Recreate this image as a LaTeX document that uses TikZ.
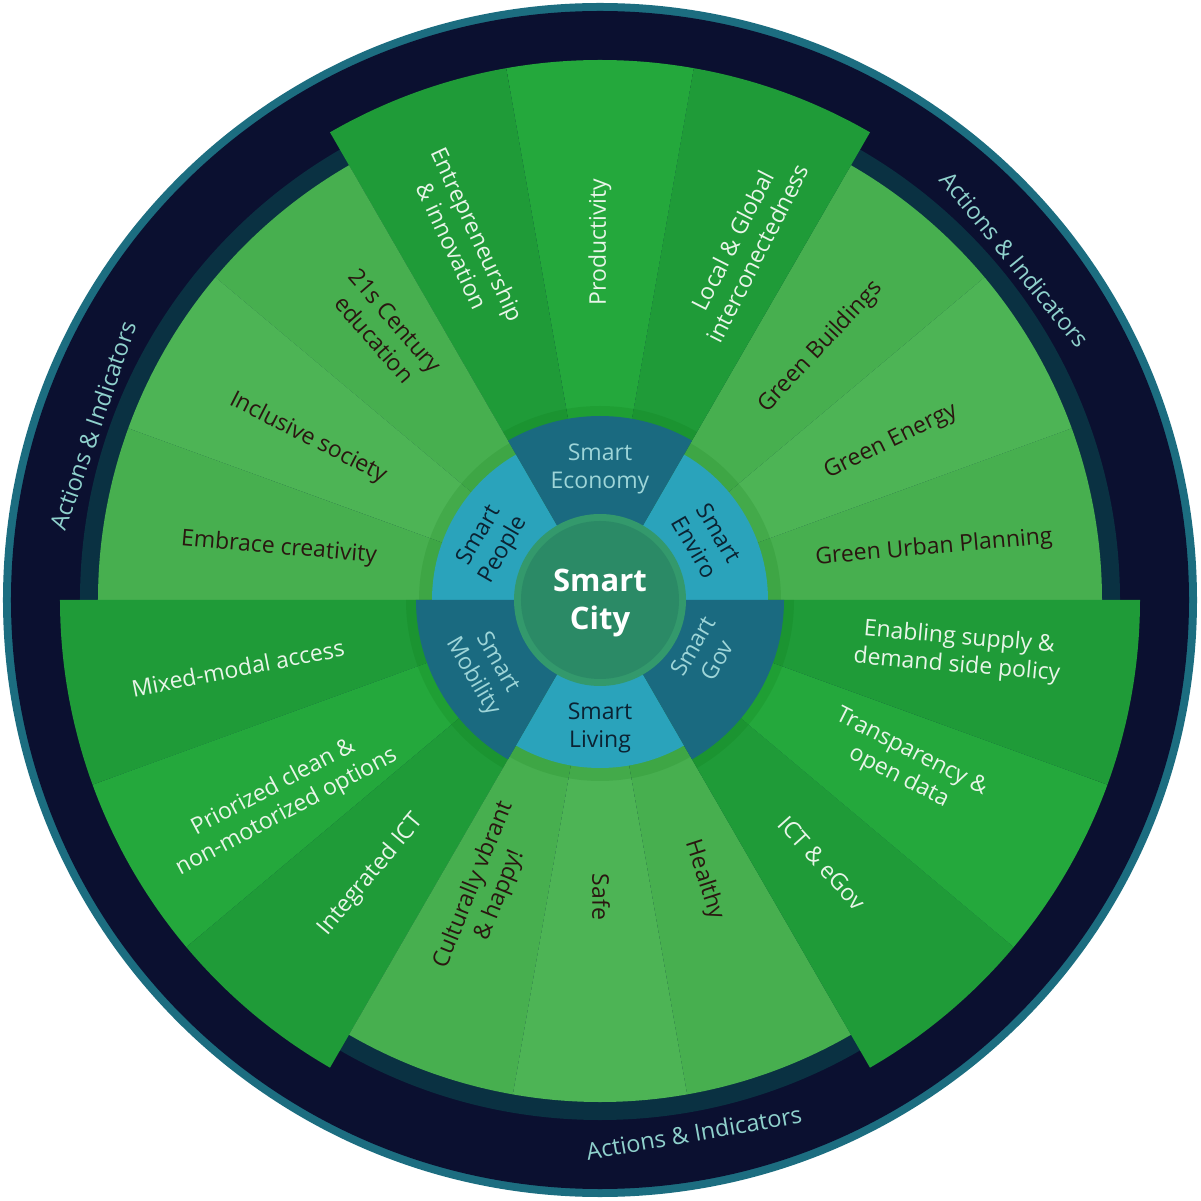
\documentclass[tikz,border=0pt]{standalone}
\usepackage{fontspec}
\setmainfont{Open Sans}
\definecolor{rim}{HTML}{1C6D80}
\definecolor{navy}{HTML}{0B1030}
\definecolor{band}{HTML}{0A3142}
\definecolor{gdark}{HTML}{1F9B38}
\definecolor{gmid}{HTML}{24A83C}
\definecolor{glite}{HTML}{47AF4F}
\definecolor{glmid}{HTML}{4DB455}
\definecolor{tdark}{HTML}{1A6A80}
\definecolor{tlite}{HTML}{2AA3BB}
\definecolor{cring}{HTML}{33996C}
\definecolor{cfill}{HTML}{2B8A66}
\definecolor{txtdark}{HTML}{2A1610}
\definecolor{txtlite}{HTML}{E8F5E8}
\definecolor{txtteal}{HTML}{9ED5D8}
\definecolor{txtnavy}{HTML}{0B2232}
\definecolor{txtact}{HTML}{8FD1CC}
\newcommand\wdg[4]{\fill[#4] (0,0) -- (#1:#3pt) arc[start angle=#1, end angle=#2, radius=#3pt] -- cycle;}
\tikzset{
  lbl/.style={font=\fontsize{23}{28}\selectfont, align=center, inner sep=0pt},
  onlite/.style={lbl, text=txtdark},
  ondark/.style={lbl, text=txtlite},
  inlite/.style={lbl, text=txtnavy},
  indark/.style={lbl, text=txtteal},
  act/.style={font=\fontsize{23.5}{28}\selectfont, text=txtact, inner sep=0pt}
}
\begin{document}
\begin{tikzpicture}[x=1pt,y=1pt]
\useasboundingbox (-600,-601) rectangle (600,600);
% outer rings
\fill[rim] (0,0) circle[radius=597pt];
\fill[navy] (0,0) circle[radius=589pt];
\fill[band] (0,0) circle[radius=520pt];
% Smart Enviro (0-60), short
\wdg{0}{20}{502}{glite}
\wdg{20}{40}{502}{glmid}
\wdg{40}{60}{502}{glite}
% Smart Economy (60-120), long
\wdg{60}{80}{540}{gdark}
\wdg{80}{100}{540}{gmid}
\wdg{100}{120}{540}{gdark}
% Smart People (120-180), short
\wdg{120}{140}{502}{glite}
\wdg{140}{160}{502}{glmid}
\wdg{160}{180}{502}{glite}
% Smart Mobility (180-240), long
\wdg{180}{200}{540}{gdark}
\wdg{200}{220}{540}{gmid}
\wdg{220}{240}{540}{gdark}
% Smart Living (240-300), short
\wdg{240}{260}{502}{glite}
\wdg{260}{280}{502}{glmid}
\wdg{280}{300}{502}{glite}
% Smart Gov (300-360), long
\wdg{300}{320}{540}{gdark}
\wdg{320}{340}{540}{gmid}
\wdg{340}{360}{540}{gdark}
% halos
\wdg{0}{60}{181}{black!60!green, opacity=0.12}
\wdg{120}{180}{181}{black!60!green, opacity=0.12}
\wdg{240}{300}{181}{black!60!green, opacity=0.12}
\wdg{60}{120}{194}{black!60!green, opacity=0.12}
\wdg{180}{240}{194}{black!60!green, opacity=0.12}
\wdg{300}{360}{194}{black!60!green, opacity=0.12}
% inner ring
\wdg{0}{60}{168}{tlite}
\wdg{120}{180}{168}{tlite}
\wdg{240}{300}{168}{tlite}
\wdg{60}{120}{184}{tdark}
\wdg{180}{240}{184}{tdark}
\wdg{300}{360}{184}{tdark}
% centre
\fill[cring] (0,0) circle[radius=86pt];
\fill[cfill] (0,0) circle[radius=79pt];
\node[font=\fontsize{31}{38}\selectfont\bfseries, text=white, align=center, inner sep=0pt] (city) at (0,-3) {Smart\\City};
% inner labels
\node[indark] (economy) at (0,131) {Smart\\Economy};
\node[inlite, rotate=60] (people) at (-108,57) {Smart\\People};
\node[inlite, rotate=-60] (enviro) at (107,60) {Smart\\Enviro};
\node[indark, rotate=60] (gov) at (105,-53) {Smart\\Gov};
\node[inlite] (living) at (0,-128) {Smart\\Living};
\node[indark, rotate=-60] (mobility) at (-115,-70) {Smart\\Mobility};
% outer labels
\node[onlite, rotate=5] (gup) at (334,52) {Green Urban Planning};
\node[onlite, rotate=26] (gen) at (291,158) {Green Energy};
\node[onlite, rotate=47] (gbu) at (221,253) {Green Buildings};
\node[ondark, rotate=63] (lgi) at (145,353) {Local \& Global\\interconectedness};
\node[ondark, rotate=90] (prod) at (0,358) {Productivity};
\node[ondark, rotate=-65] (entre) at (-135,360) {Entrepreneurship\\\& innovation};
\node[onlite, rotate=-49] (edu) at (-215,270) {21s Century\\education};
\node[onlite, rotate=-27] (incl) at (-292,162) {Inclusive society};
\node[onlite, rotate=-5] (creat) at (-321,52) {Embrace creativity};
\node[ondark, rotate=11] (mixed) at (-362,-68) {Mixed-modal access};
\node[ondark, rotate=28] (prio) at (-320,-200) {Priorized clean \&\\non-motorized options};
\node[ondark, rotate=50] (ict) at (-229,-275) {Integrated ICT};
\node[onlite, rotate=68] (cult) at (-113,-290) {Culturally vbrant\\\& happy!};
\node[onlite, rotate=-90] (safe) at (1,-297) {Safe};
\node[onlite, rotate=-72] (health) at (104,-280) {Healthy};
\node[ondark, rotate=-48] (egov) at (222,-263) {ICT \& eGov};
\node[ondark, rotate=-27] (transp) at (305,-165) {Transparency \&\\open data};
\node[ondark, rotate=-5] (enab) at (358,-52) {Enabling supply \&\\demand side policy};
% Actions & Indicators
\node[act, rotate=71] (actL) at (161:536pt) {Actions \& Indicators};
\node[act, rotate=-50.6] (actR) at (39.4:537pt) {Actions \& Indicators};
\node[act, rotate=10] (actB) at (-80:541pt) {Actions \& Indicators};
\end{tikzpicture}
\end{document}
